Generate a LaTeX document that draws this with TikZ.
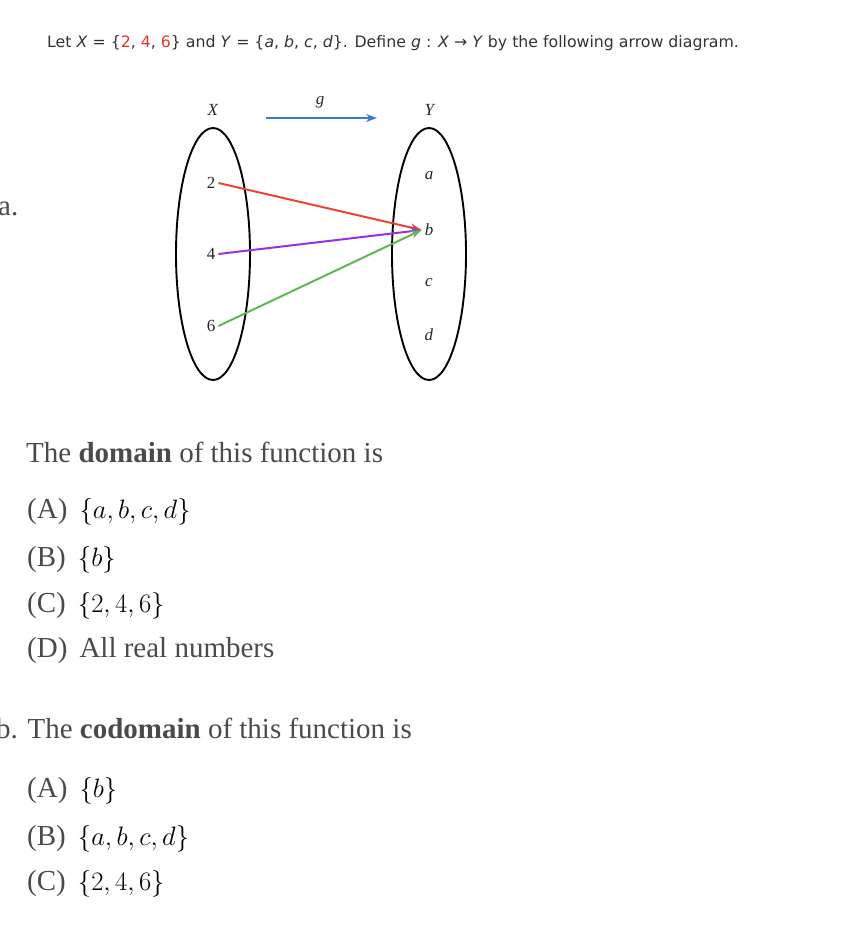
\documentclass[tikz,border=0pt]{standalone}
\usepackage{fontspec}
\usetikzlibrary{arrows.meta,shapes.geometric}
\newfontfamily\headfont{DejaVu Sans}
\newfontfamily\bodyfont{Liberation Serif}
\definecolor{headgray}{HTML}{333333}
\definecolor{bodygray}{HTML}{4A4A4A}
\definecolor{numred}{HTML}{D9382E}
\definecolor{gblue}{HTML}{3A7DC4}
\definecolor{mapred}{HTML}{EE4437}
\definecolor{mappurple}{HTML}{9B30E0}
\definecolor{mapgreen}{HTML}{62B556}
\newcommand{\optset}[1]{\textcolor{black}{\scalebox{1.07}{$#1$}}}
\begin{document}
\begin{tikzpicture}[x=1pt,y=-1pt,
  setoval/.style={draw, ellipse, line width=1.9pt, minimum width=74pt, minimum height=252pt},
  elem/.style={inner sep=3pt, text=black!85, font=\bodyfont\fontsize{17}{19}\selectfont},
  maparrow/.style={line width=2pt, -{Stealth[length=11pt,width=8pt]}},
  body/.style={anchor=base west, inner sep=0pt, text=bodygray, font=\bodyfont\fontsize{29}{34}\selectfont}]
\useasboundingbox (0,0) rectangle (848,928);
% heading
\node[anchor=base west, inner sep=0pt, text=headgray, font=\headfont\fontsize{15.75}{18}\selectfont] (head) at (47,48)
  {Let \textit{X} = \{\textcolor{numred}{2}, \textcolor{numred}{4}, \textcolor{numred}{6}\} and \textit{Y} = \{\textit{a}, \textit{b}, \textit{c}, \textit{d}\}. Define \textit{g} : \textit{X} → \textit{Y} by the following arrow diagram.};
% the two sets
\node[setoval] (setX) at (213,254) {};
\node[setoval] (setY) at (429,254) {};
\node[elem] (labX) at (213,110) {\textit{X}};
\node[elem] (labY) at (430,110) {\textit{Y}};
\node[elem] (labg) at (320,102) {\textit{g}};
\coordinate (gs) at (266,118);
\coordinate (ge) at (377,118);
\draw[maparrow, gblue] (gs) -- (ge);
\node[elem] (x2) at (211,183) {2};
\node[elem] (x4) at (211,254) {4};
\node[elem] (x6) at (211,326) {6};
\node[elem] (ya) at (429,176) {\textit{a}};
\node[elem] (yb) at (429,230) {\textit{b}};
\node[elem] (yc) at (429,283) {\textit{c}};
\node[elem] (yd) at (429,335) {\textit{d}};
\draw[maparrow, mapred] (x2.east) -- (yb.west);
\draw[maparrow, mappurple] (x4.east) -- (yb.west);
\draw[maparrow, mapgreen] (x6.east) -- (yb.west);
% part a
\node[body] (qa) at (-2,215) {a.};
\node[body] (dom) at (26,462) {The \textbf{domain} of this function is};
\node[body] (domA) at (27,518) {(A)\, \optset{\{a,b,c,d\}}};
\node[body] (domB) at (27,566) {(B)\, \optset{\{b\}}};
\node[body] (domC) at (27,612) {(C)\, \optset{\{2,4,6\}}};
\node[body] (domD) at (27,657) {(D)\, All real numbers};
% part b
\node[body] (cod) at (-4,738) {b. The \textbf{codomain} of this function is};
\node[body] (codA) at (27,797) {(A)\, \optset{\{b\}}};
\node[body] (codB) at (27,845) {(B)\, \optset{\{a,b,c,d\}}};
\node[body] (codC) at (27,890) {(C)\, \optset{\{2,4,6\}}};
\end{tikzpicture}
\end{document}
